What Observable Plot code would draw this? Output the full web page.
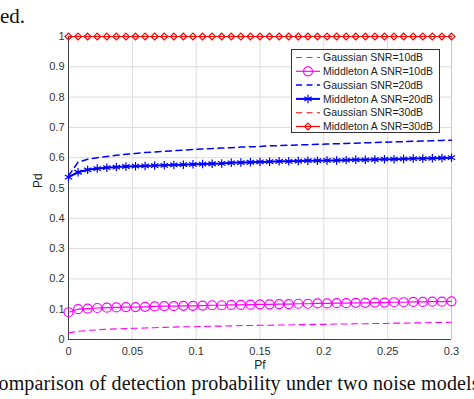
<!DOCTYPE html>
<html><head><meta charset="utf-8">
<script src="https://cdn.jsdelivr.net/npm/d3@7"></script>
<script src="https://cdn.jsdelivr.net/npm/@observablehq/plot@0.6"></script>
<style>
body{margin:0;background:#fff;}
#wrap{position:relative;width:474px;height:399px;overflow:hidden;background:#fff;}
#wrap svg{position:absolute;left:0;top:0;}
.prose{position:absolute;font-family:"Liberation Serif","Times New Roman",serif;color:#111;white-space:nowrap;}
</style></head><body><div id="wrap"></div>
<script>
const pf = [0,0.0075,0.015,0.0225,0.03,0.0375,0.045,0.0525,0.06,0.0675,0.075,0.0825,0.09,0.0975,0.105,0.1125,0.12,0.1275,0.135,0.1425,0.15,0.1575,0.165,0.1725,0.18,0.1875,0.195,0.2025,0.21,0.2175,0.225,0.2325,0.24,0.2475,0.255,0.2625,0.27,0.2775,0.285,0.2925,0.3];
const gauss10 = [0.022,0.027,0.030,0.032,0.034,0.035,0.036,0.037,0.038,0.039,0.040,0.041,0.042,0.042,0.043,0.044,0.044,0.045,0.046,0.046,0.047,0.047,0.048,0.048,0.049,0.049,0.050,0.050,0.051,0.051,0.052,0.052,0.053,0.053,0.054,0.054,0.055,0.055,0.056,0.056,0.057];
const midd10 = [0.090,0.100,0.102,0.104,0.105,0.106,0.107,0.107,0.108,0.109,0.110,0.110,0.111,0.111,0.112,0.113,0.113,0.114,0.114,0.115,0.116,0.116,0.117,0.117,0.118,0.118,0.119,0.119,0.120,0.120,0.121,0.121,0.122,0.122,0.123,0.123,0.124,0.124,0.125,0.125,0.126];
const gauss20 = [0.540,0.585,0.595,0.600,0.604,0.608,0.611,0.614,0.617,0.619,0.621,0.623,0.625,0.627,0.629,0.630,0.632,0.633,0.635,0.636,0.637,0.639,0.640,0.641,0.642,0.643,0.644,0.645,0.646,0.647,0.648,0.649,0.650,0.651,0.652,0.653,0.654,0.655,0.656,0.657,0.658];
const midd20 = [0.536,0.552,0.560,0.564,0.567,0.569,0.571,0.572,0.573,0.574,0.575,0.576,0.577,0.578,0.579,0.580,0.581,0.583,0.584,0.585,0.586,0.587,0.588,0.588,0.589,0.590,0.590,0.591,0.591,0.592,0.593,0.593,0.594,0.595,0.595,0.596,0.597,0.597,0.598,0.599,0.600];
const gauss30 = [1,1,1,1,1,1,1,1,1,1,1,1,1,1,1,1,1,1,1,1,1,1,1,1,1,1,1,1,1,1,1,1,1,1,1,1,1,1,1,1,1];
const midd30 = [1,1,1,1,1,1,1,1,1,1,1,1,1,1,1,1,1,1,1,1,1,1,1,1,1,1,1,1,1,1,1,1,1,1,1,1,1,1,1,1,1];
const xTicks = [0,0.05,0.1,0.15,0.2,0.25,0.3];
const xTickLabels = ["0","0.05","0.1","0.15","0.2","0.25","0.3"];
const yTicks = [0,0.1,0.2,0.3,0.4,0.5,0.6,0.7,0.8,0.9,1];
const yTickLabels = ["0","0.1","0.2","0.3","0.4","0.5","0.6","0.7","0.8","0.9","1"];
const seriesNames = ["Gaussian SNR=10dB","Middleton A SNR=10dB","Gaussian SNR=20dB","Middleton A SNR=20dB","Gaussian SNR=30dB","Middleton A SNR=30dB"];
const xLabel = "Pf", yLabel = "Pd";
const captionText = "Comparison of detection probability under two noise models";
const proseText = "ed.";

const MAG = "#ff00ff", BLU = "#0000ff", RED = "#ff0000";
const styles = [
  {color: MAG, dash: "6,4.5", width: 1.1, symbol: null},
  {color: MAG, dash: null, width: 1.2, symbol: "circle", r: 4.5},
  {color: BLU, dash: "6,4.5", width: 1.5, symbol: null},
  {color: BLU, dash: null, width: 2, symbol: "asterisk", r: 4},
  {color: RED, dash: "6,4.5", width: 1.1, symbol: null},
  {color: RED, dash: null, width: 1.2, symbol: "diamond2", r: 3.1}
];
const allY = [gauss10, midd10, gauss20, midd20, gauss30, midd30];
const rows = allY.map((ys, k) => pf.map((x, i) => ({x, y: ys[i], k})));

const marks = [
  Plot.gridX(xTicks, {stroke: "#dcdcdc", strokeOpacity: 1}),
  Plot.gridY(yTicks, {stroke: "#dcdcdc", strokeOpacity: 1}),
  Plot.ruleX([0.3], {stroke: "#c8c8c8"}),
  Plot.ruleY([1], {stroke: "#c8c8c8"}),
  Plot.ruleX([0], {stroke: "#404040"}),
  Plot.ruleY([0], {stroke: "#404040"}),
  Plot.axisX({ticks: xTicks, tickFormat: (d) => xTickLabels[xTicks.indexOf(d)], tickSize: 0, tickPadding: 8, label: null, fill: "#333"}),
  Plot.axisY({ticks: yTicks, tickFormat: (d) => yTickLabels[yTicks.indexOf(d)], tickSize: 0, tickPadding: 4, label: null, fill: "#333"}),
  Plot.text([yLabel], {frameAnchor: "left", dx: -30, rotate: -90, fontSize: 12, fill: "#222"}),
  Plot.text([xLabel], {frameAnchor: "bottom", dy: 29, fontSize: 12, fill: "#222"})
];
rows.forEach((data, k) => {
  const s = styles[k];
  marks.push(Plot.line(data, {x: "x", y: "y", stroke: s.color, strokeWidth: s.width, strokeDasharray: s.dash || undefined}));
  if (s.symbol) marks.push(Plot.dot(data, {x: "x", y: "y", symbol: s.symbol, r: s.r, stroke: s.color, strokeWidth: 1.2, fill: "none"}));
});

const chart = Plot.plot({
  width: 474, height: 399,
  marginLeft: 68, marginRight: 23, marginTop: 36, marginBottom: 60,
  x: {domain: [0, 0.3]},
  y: {domain: [0, 1]},
  style: {fontFamily: "'Liberation Sans', Arial, sans-serif", fontSize: "11px", background: "transparent", overflow: "visible"},
  marks
});
const wrap = document.getElementById("wrap");
wrap.appendChild(chart);

// legend
const lg = d3.select(wrap).append("svg").attr("width", 474).attr("height", 399).style("pointer-events", "none");
const lx = 291, ly = 49, lw = 148, lh = 83;
lg.append("rect").attr("x", lx + 0.5).attr("y", ly + 0.5).attr("width", lw).attr("height", lh).attr("fill", "#fff").attr("stroke", "#333").attr("stroke-width", 1);
seriesNames.forEach((name, k) => {
  const s = styles[k];
  const cy = ly + 8.5 + k * 13.8;
  lg.append("line").attr("x1", lx + 5).attr("x2", lx + 29).attr("y1", cy).attr("y2", cy)
    .attr("stroke", s.color).attr("stroke-width", s.width).attr("stroke-dasharray", s.dash || null);
  if (s.symbol) {
    const sym = {circle: d3.symbolCircle, asterisk: d3.symbolAsterisk, diamond2: d3.symbolDiamond2}[s.symbol];
    lg.append("path").attr("transform", `translate(${lx + 17},${cy})`)
      .attr("d", d3.symbol(sym, s.r * s.r * Math.PI)()).attr("fill", "none").attr("stroke", s.color).attr("stroke-width", 1.2);
  }
  lg.append("text").attr("x", lx + 32).attr("y", cy).attr("dy", "0.35em")
    .attr("font-family", "'Liberation Sans', Arial, sans-serif").attr("font-size", 10.5).attr("fill", "#222").text(name);
});

const p = document.createElement("div");
p.className = "prose"; p.style.left = "0px"; p.style.top = "4px"; p.style.fontSize = "21px"; p.textContent = proseText;
wrap.appendChild(p);
const c = document.createElement("div");
c.className = "prose"; c.style.left = "-15px"; c.style.top = "372px"; c.style.fontSize = "20px"; c.style.letterSpacing = "0.15px"; c.textContent = captionText;
wrap.appendChild(c);
</script></body></html>
